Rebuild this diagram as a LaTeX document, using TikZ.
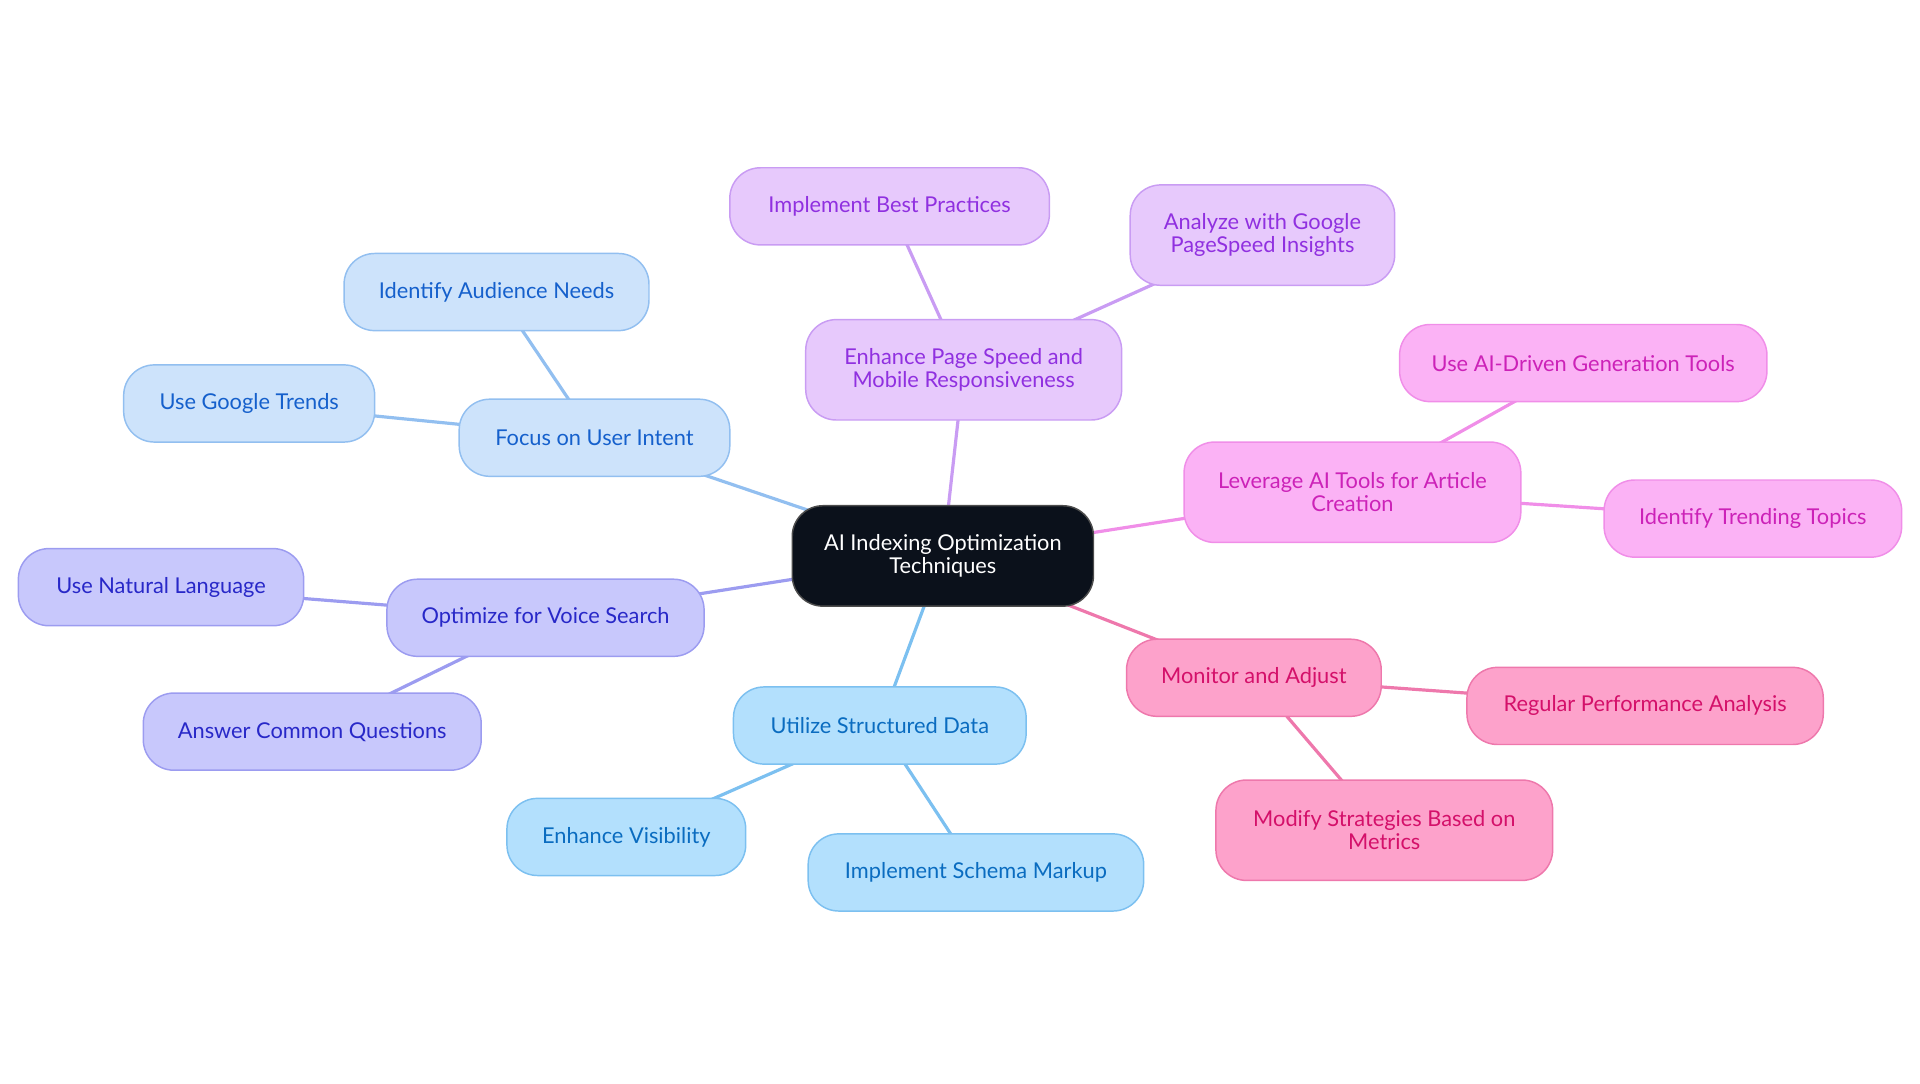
\documentclass[tikz,border=0pt]{standalone}
\usepackage{fontspec}
\setmainfont{Lato}
\usetikzlibrary{backgrounds}
\definecolor{cdark}{HTML}{0B111B}
\definecolor{aFill}{HTML}{CDE3FB}\definecolor{aLine}{HTML}{92BFF0}\definecolor{aText}{HTML}{1560CC}
\definecolor{bFill}{HTML}{E7C9FC}\definecolor{bLine}{HTML}{C99CF3}\definecolor{bText}{HTML}{9030E0}
\definecolor{cFill}{HTML}{FBB2F5}\definecolor{cLine}{HTML}{F08EE8}\definecolor{cText}{HTML}{CC22B8}
\definecolor{dFill}{HTML}{FDA2CB}\definecolor{dLine}{HTML}{EE78AC}\definecolor{dText}{HTML}{D4106A}
\definecolor{eFill}{HTML}{B3E0FD}\definecolor{eLine}{HTML}{7CC0F0}\definecolor{eText}{HTML}{0A6CC0}
\definecolor{fFill}{HTML}{C8C8FC}\definecolor{fLine}{HTML}{9C9CF0}\definecolor{fText}{HTML}{2828C8}
\tikzset{
  box/.style={rectangle, rounded corners=25pt, inner sep=0pt, align=center,
    font=\fontsize{17.8}{19}\selectfont, line width=1.2pt},
  grpA/.style={box, fill=aFill, draw=aLine, text=aText},
  grpB/.style={box, fill=bFill, draw=bLine, text=bText},
  grpC/.style={box, fill=cFill, draw=cLine, text=cText},
  grpD/.style={box, fill=dFill, draw=dLine, text=dText},
  grpE/.style={box, fill=eFill, draw=eLine, text=eText},
  grpF/.style={box, fill=fFill, draw=fLine, text=fText},
  rootbox/.style={box, fill=cdark, draw=black!70, text=white},
  sz/.style 2 args={minimum width=#1pt, minimum height=#2pt},
  edge/.style={line width=2.6pt}
}
\begin{document}
\begin{tikzpicture}[x=1pt,y=-1pt]
\useasboundingbox (0,0) rectangle (1568,884.5);
% root
\node[rootbox, sz={246}{82}] (root) at (770,454) {AI Indexing Optimization\\Techniques};
% group A
\node[grpA, sz={221}{63}] (focus) at (485.5,357.5) {Focus on User Intent};
\node[grpA, sz={249}{63}] (aud) at (405.5,238.5) {Identify Audience Needs};
\node[grpA, sz={205}{63}] (trends) at (203.5,329.5) {Use Google Trends};
% group B
\node[grpB, sz={258}{82}] (speed) at (787,302) {Enhance Page Speed and\\Mobile Responsiveness};
\node[grpB, sz={261}{63}] (best) at (726.5,168.5) {Implement Best Practices};
\node[grpB, sz={216}{82}] (psi) at (1031,192) {Analyze with Google\\PageSpeed Insights};
% group C
\node[grpC, sz={275}{82}] (lev) at (1104.5,402) {Leverage AI Tools for Article\\Creation};
\node[grpC, sz={300}{63}] (gen) at (1293,296.5) {Use AI-Driven Generation Tools};
\node[grpC, sz={243}{63}] (trend) at (1431.5,423.5) {Identify Trending Topics};
% group D
\node[grpD, sz={208}{63}] (mon) at (1024,553.5) {Monitor and Adjust};
\node[grpD, sz={291}{63}] (perf) at (1343.5,576.5) {Regular Performance Analysis};
\node[grpD, sz={275}{82}] (mod) at (1130.5,678) {Modify Strategies Based on\\Metrics};
% group E
\node[grpE, sz={239}{63}] (struct) at (718.5,592.5) {Utilize Structured Data};
\node[grpE, sz={195}{63}] (vis) at (511.5,683.5) {Enhance Visibility};
\node[grpE, sz={274}{63}] (schema) at (797,712.5) {Implement Schema Markup};
% group F
\node[grpF, sz={259}{63}] (voice) at (445.5,504.5) {Optimize for Voice Search};
\node[grpF, sz={233}{63}] (nat) at (131.5,479.5) {Use Natural Language};
\node[grpF, sz={276}{63}] (ans) at (255,597.5) {Answer Common Questions};
% edges
\begin{scope}[on background layer]
\draw[edge, aLine] (root.center) -- (focus.center);
\draw[edge, aLine] (focus.center) -- (aud.center);
\draw[edge, aLine] (focus.center) -- (trends.center);
\draw[edge, bLine] (root.center) -- (speed.center);
\draw[edge, bLine] (speed.center) -- (best.center);
\draw[edge, bLine] (speed.center) -- (psi.center);
\draw[edge, cLine] (root.center) -- (lev.center);
\draw[edge, cLine] (lev.center) -- (gen.center);
\draw[edge, cLine] (lev.center) -- (trend.center);
\draw[edge, dLine] (root.center) -- (mon.center);
\draw[edge, dLine] (mon.center) -- (perf.center);
\draw[edge, dLine] (mon.center) -- (mod.center);
\draw[edge, eLine] (root.center) -- (struct.center);
\draw[edge, eLine] (struct.center) -- (vis.center);
\draw[edge, eLine] (struct.center) -- (schema.center);
\draw[edge, fLine] (root.center) -- (voice.center);
\draw[edge, fLine] (voice.center) -- (nat.center);
\draw[edge, fLine] (voice.center) -- (ans.center);
\end{scope}
\end{tikzpicture}
\end{document}
